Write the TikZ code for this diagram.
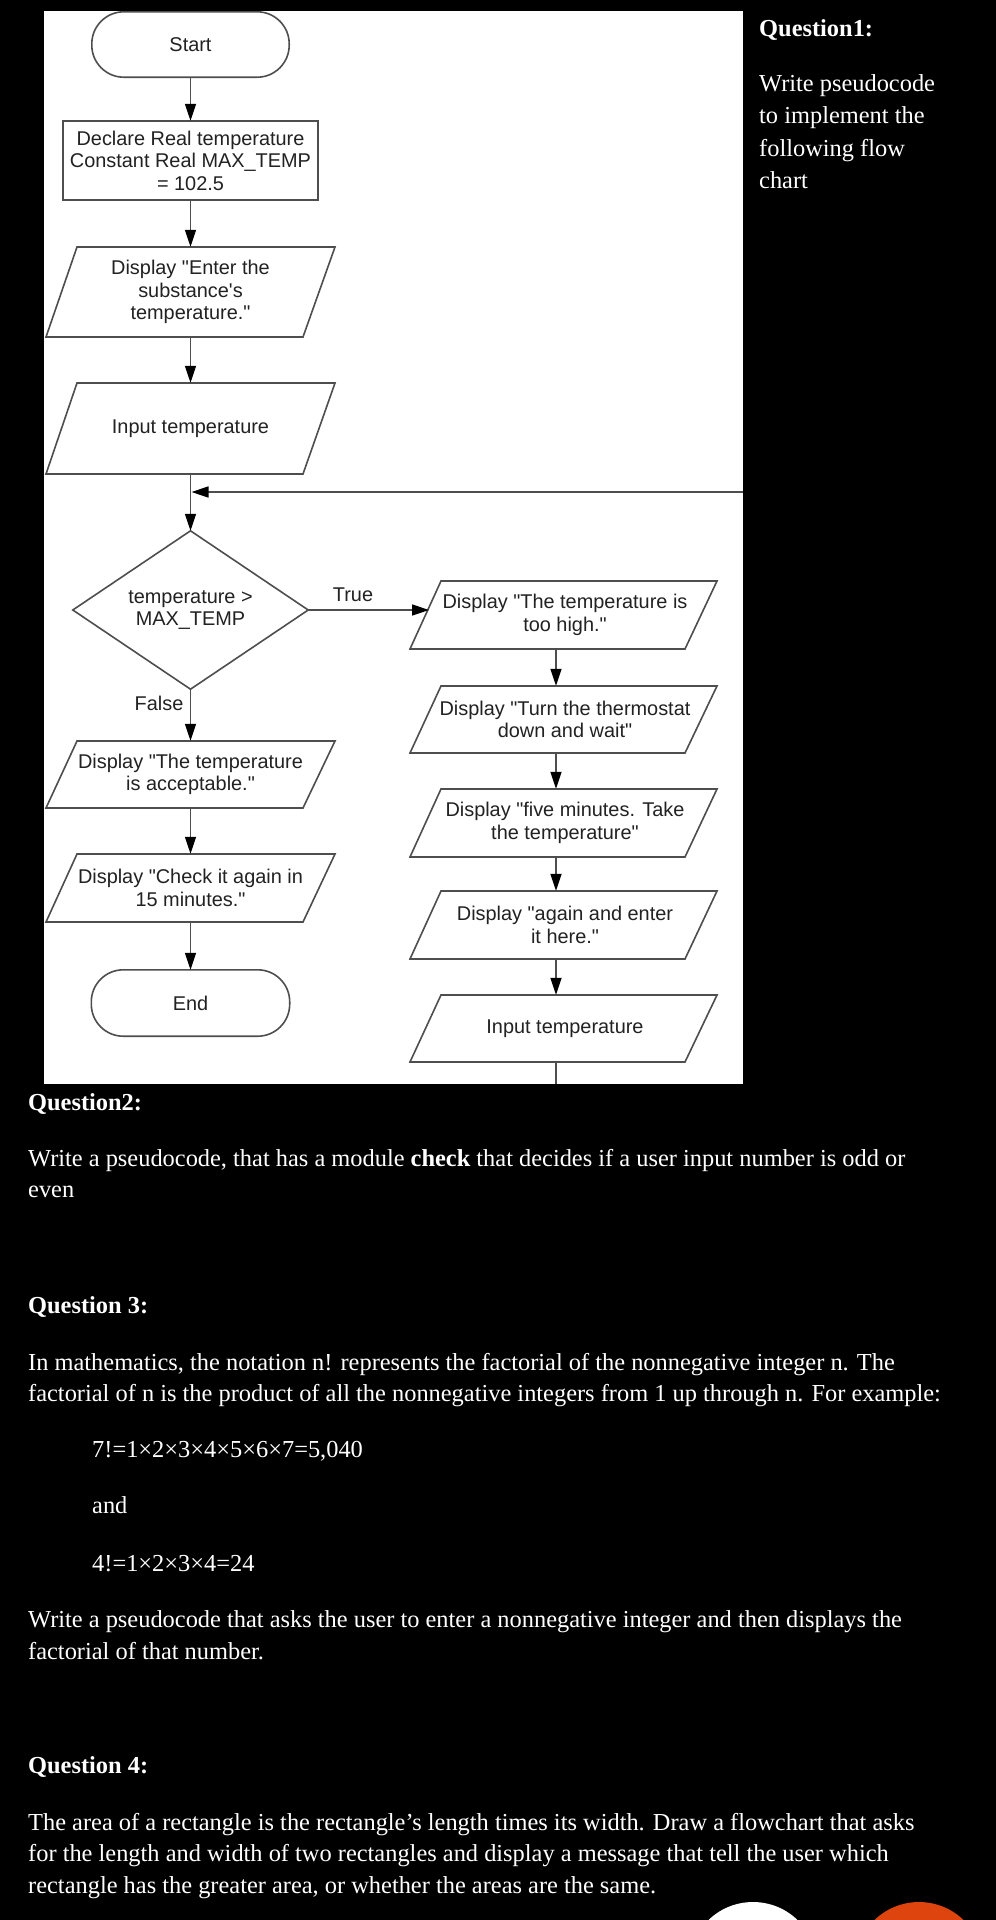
\documentclass[tikz,border=0pt]{standalone}
\usepackage{fontspec}
\setmainfont{Liberation Serif}
\newfontfamily\flowfont{Liberation Sans}
\usetikzlibrary{arrows.meta,calc}
\definecolor{lnc}{HTML}{4E4E4E}
\definecolor{txc}{HTML}{222222}
\definecolor{orng}{RGB}{221,68,14}
\begin{document}
\begin{tikzpicture}[x=1pt,y=-1pt,
  flow/.style={draw=none, inner sep=0pt, font=\flowfont\fontsize{19.9}{22.5}\selectfont, text=txc, align=center},
  outl/.style={draw=lnc, line width=1.6pt, line join=miter},
  arr/.style={draw=lnc, line width=1.6pt, -{Triangle[length=17pt,width=11pt,color=black]}},
  plainln/.style={draw=lnc, line width=1.6pt},
  lbl/.style={inner sep=0pt, font=\flowfont\fontsize{19.9}{22.5}\selectfont, text=txc},
  qtxt/.style={anchor=base west, inner sep=0pt, text=white, font=\fontsize{24.4}{32}\selectfont},
  qbold/.style={anchor=base west, inner sep=0pt, text=white, font=\bfseries\fontsize{24.4}{32}\selectfont}
]
\fill[black] (0,0) rectangle (996,1920);
\useasboundingbox (0,0) rectangle (996,1920);
\fill[white] (44,11) rectangle (743,1084);

% ---------- main column ----------
\node[flow, minimum width=197pt, minimum height=65pt] (start) at (190.5,44.5) {Start};
\draw[outl, rounded corners=32pt] (start.north west) rectangle (start.south east);

\node[flow, minimum width=255pt, minimum height=79pt] (decl) at (190.5,160.5) {Declare Real temperature\\Constant Real MAX\_TEMP\\= 102.5};
\draw[outl] (decl.north west) rectangle (decl.south east);

\node[flow, minimum width=226pt, minimum height=90pt] (enter) at (190.5,292) {Display "Enter the\\substance\textquotesingle s\\temperature."};
\draw[outl] (77,247) -- (335,247) -- (303,337) -- (46,337) -- cycle;

\node[flow, minimum width=226pt, minimum height=91pt] (input) at (190.5,428.5) {Input temperature};
\draw[outl] (77,383) -- (335,383) -- (303,474) -- (46,474) -- cycle;

\node[flow, minimum width=235pt, minimum height=158pt] (dec) at (190.5,610) {temperature >\\MAX\_TEMP};
\draw[outl] (dec.north) -- (dec.east) -- (dec.south) -- (dec.west) -- cycle;

\node[flow, minimum width=226pt, minimum height=67pt] (acc) at (190.5,774.5) {Display "The temperature\\is acceptable."};
\draw[outl] (77,741) -- (335,741) -- (303,808) -- (46,808) -- cycle;

\node[flow, minimum width=226pt, minimum height=68pt] (chk) at (190.5,888) {Display "Check it again in\\15 minutes."};
\draw[outl] (77,854) -- (335,854) -- (303,922) -- (46,922) -- cycle;

\node[flow, minimum width=198pt, minimum height=66pt] (end) at (190.5,1003) {End};
\draw[outl, rounded corners=32pt] (end.north west) rectangle (end.south east);

% ---------- right column ----------
\node[flow, minimum width=245pt, minimum height=68pt] (p1) at (565,615) {Display "The temperature is\\too high."};
\draw[outl] (441,581) -- (717,581) -- (685,649) -- (410,649) -- cycle;

\node[flow, minimum width=245pt, minimum height=67pt] (p2) at (565,719.5) {Display "Turn the thermostat\\down and wait"};
\draw[outl] (441,686) -- (717,686) -- (685,753) -- (410,753) -- cycle;

\node[flow, minimum width=245pt, minimum height=68pt] (p3) at (565,823) {Display "five minutes. Take\\the temperature"};
\draw[outl] (441,789) -- (717,789) -- (685,857) -- (410,857) -- cycle;

\node[flow, minimum width=245pt, minimum height=68pt] (p4) at (565,925) {Display "again and enter\\it here."};
\draw[outl] (441,891) -- (717,891) -- (685,959) -- (410,959) -- cycle;

\node[flow, minimum width=245pt, minimum height=67pt] (p5) at (565,1028.5) {Input temperature};
\draw[outl] (441,995) -- (717,995) -- (685,1062) -- (410,1062) -- cycle;

% ---------- connectors ----------
\draw[arr] (start.south) -- (decl.north);
\draw[arr] (decl.south) -- (enter.north);
\draw[arr] (enter.south) -- (input.north);
\draw[arr] (input.south) -- (dec.north);
\draw[arr] (dec.south) -- (acc.north);
\draw[arr] (acc.south) -- (chk.north);
\draw[arr] (chk.south) -- (end.north);

\coordinate (loopR) at (743,492);
\coordinate (loopJ) at (191.5,492);
\draw[arr] (loopR) -- (loopJ);

\coordinate (p1in) at (429,610);
\draw[arr] (dec.east) -- (p1in);
\node[lbl] (truelbl) at (353,595) {True};
\node[lbl] (falselbl) at (159,703) {False};

\coordinate (rx) at (556,0);
\draw[arr] (p1.south -| rx) -- (p2.north -| rx);
\draw[arr] (p2.south -| rx) -- (p3.north -| rx);
\draw[arr] (p3.south -| rx) -- (p4.north -| rx);
\draw[arr] (p4.south -| rx) -- (p5.north -| rx);
\coordinate (p5out) at (556,1084);
\draw[plainln] (p5.south -| rx) -- (p5out);

% ---------- question texts ----------
\node[qbold] (q1t) at (759,36) {Question1:};
\node[qtxt] (q1a) at (759,91) {Write pseudocode};
\node[qtxt] (q1b) at (759,123.5) {to implement the};
\node[qtxt] (q1c) at (759,156) {following flow};
\node[qtxt] (q1d) at (759,188.5) {chart};

\node[qbold] (q2t) at (28,1110) {Question2:};
\node[qtxt] (q2a) at (28,1166) {Write a pseudocode, that has a module \textbf{check} that decides if a user input number is odd or};
\node[qtxt] (q2b) at (28,1197) {even};

\node[qbold] (q3t) at (28,1313) {Question 3:};
\node[qtxt] (q3a) at (28,1370) {In mathematics, the notation n! represents the factorial of the nonnegative integer n. The};
\node[qtxt] (q3b) at (28,1401) {factorial of n is the product of all the nonnegative integers from 1 up through n. For example:};
\node[qtxt] (ex1) at (92,1457) {7!=1×2×3×4×5×6×7=5,040};
\node[qtxt] (and) at (92,1513) {and};
\node[qtxt] (ex2) at (92,1571) {4!=1×2×3×4=24};
\node[qtxt] (q3c) at (28,1627) {Write a pseudocode that asks the user to enter a nonnegative integer and then displays the};
\node[qtxt] (q3d) at (28,1659) {factorial of that number.};

\node[qbold] (q4t) at (28,1773) {Question 4:};
\node[qtxt] (q4a) at (28,1830) {The area of a rectangle is the rectangle’s length times its width. Draw a flowchart that asks};
\node[qtxt] (q4b) at (28,1861) {for the length and width of two rectangles and display a message that tell the user which};
\node[qtxt] (q4c) at (28,1893) {rectangle has the greater area, or whether the areas are the same.};

% ---------- bottom circles ----------
\begin{scope}
\clip (0,0) rectangle (996,1920);
\fill[white] (753,1966) circle[radius=64pt];
\fill[orng] (919,1966) circle[radius=64pt];
\end{scope}
\end{tikzpicture}
\end{document}
